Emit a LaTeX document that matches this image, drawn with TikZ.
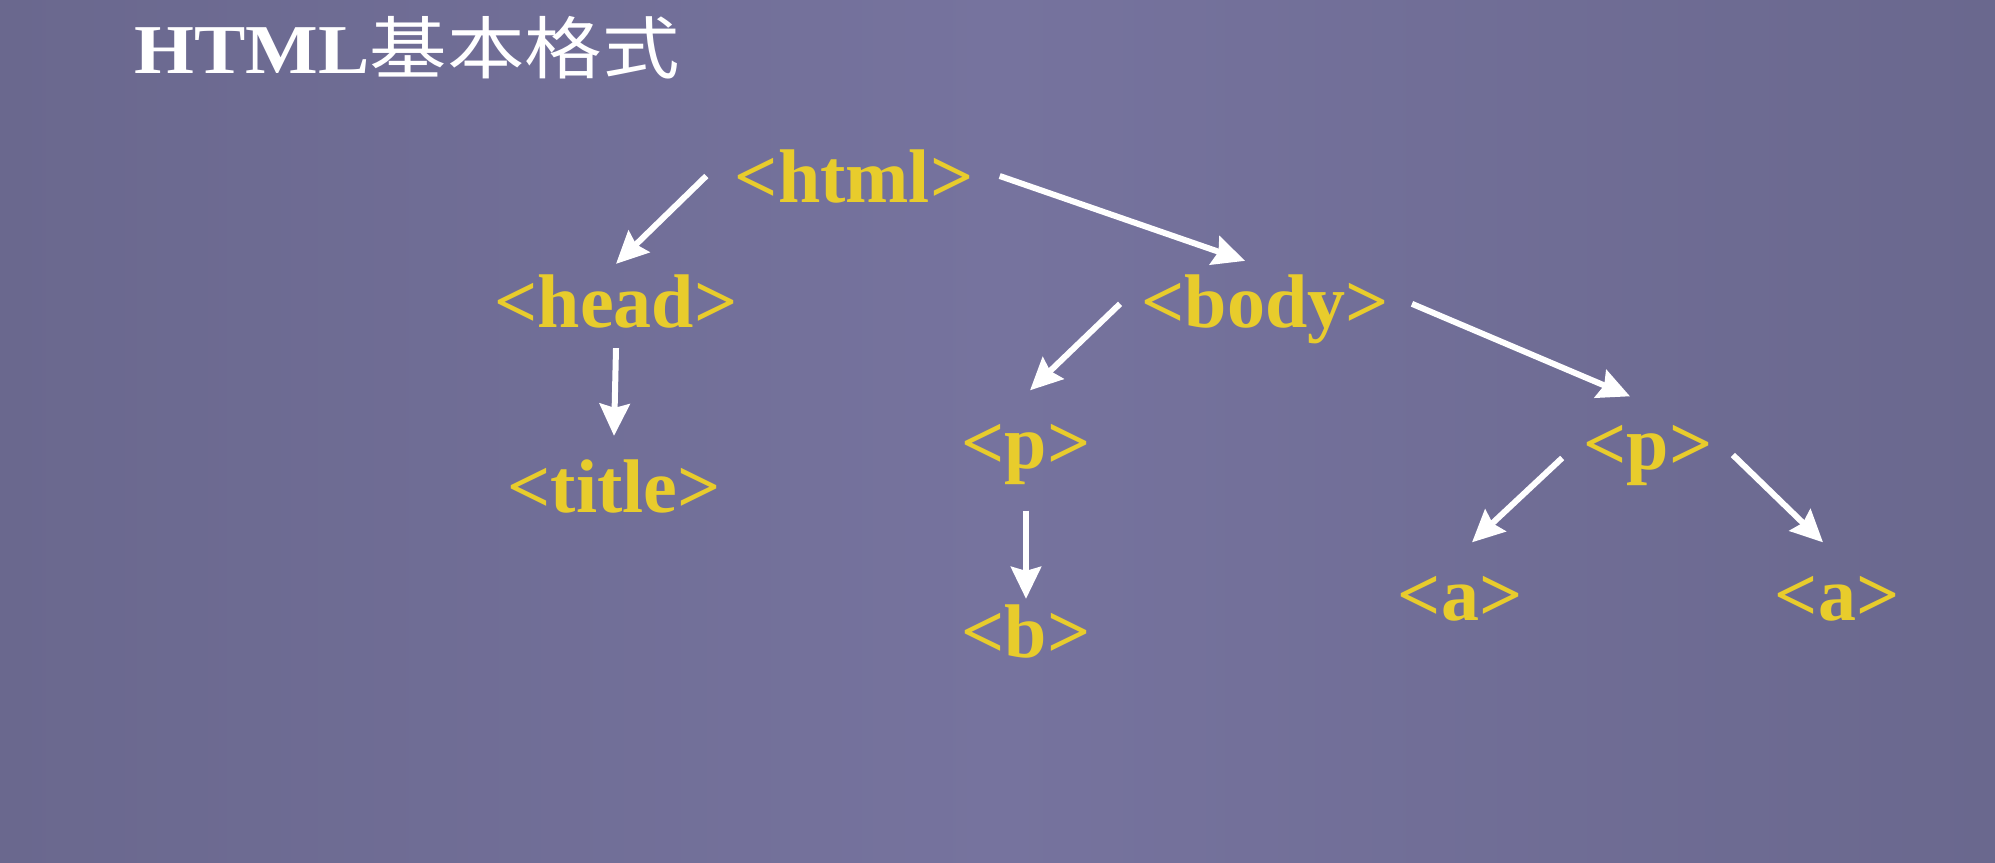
\documentclass[tikz,border=0pt]{standalone}
\usepackage{fontspec}
\setmainfont{Liberation Serif}
\newfontfamily\headfont{Liberation Serif}[FakeStretch=1.1]
\newfontfamily\cjk{Noto Sans CJK SC}[FakeStretch=1.14]
\usetikzlibrary{arrows.meta,positioning}
\definecolor{slidebg}{HTML}{76739E}
\definecolor{slidebgdark}{HTML}{6A688E}
\definecolor{tagyellow}{HTML}{E8CC2C}
\newcommand{\tagfont}{\fontsize{38}{38}\selectfont\bfseries}

\tikzset{
  tag/.style={text=tagyellow,font=\tagfont,inner sep=0pt,anchor=base},
  link/.style={draw=white,line width=3pt,-{Stealth[length=16pt,width=15pt,inset=2pt]}}
}

\begin{document}
\begin{tikzpicture}[x=0.5pt,y=-0.5pt]
    % background of the slide
    \shade[left color=slidebgdark,right color=slidebgdark,middle color=slidebg] (0,0) rectangle (1995,862);
    \useasboundingbox (0,0) rectangle (1995,862);

    \node[anchor=base west,inner sep=0pt,text=white,font=\headfont\fontsize{35}{35}\selectfont\bfseries] (heading) at (134,73) {HTML{\cjk\mdseries\fontsize{34}{34}\selectfont 基本格式}};

    % the tree of tags
    \node[tag] (html)  at (854,202)  {<html>};
    \node[tag] (head)  at (616,327)  {<head>};
    \node[tag] (body)  at (1265,327) {<body>};
    \node[tag] (title) at (614,512)  {<title>};
    \node[tag] (pL)    at (1026,468) {<p>};
    \node[tag] (pR)    at (1648,469) {<p>};
    \node[tag] (b)     at (1026,657) {<b>};
    \node[tag] (aL)    at (1460,620) {<a>};
    \node[tag] (aR)    at (1837,620) {<a>};

    \draw[link] ([xshift=-14pt]html.west) -- ([yshift=5pt]head.north);
    \draw[link] ([xshift=13pt]html.east) -- ([xshift=-10pt,yshift=6.5pt]body.north);
    \draw[link] ([yshift=-10pt]head.south) -- ([yshift=11.5pt]title.north);
    \draw[link] ([xshift=-10.5pt,yshift=2.5pt]body.west) -- ([xshift=2pt,yshift=16.5pt]pL.north);
    \draw[link] ([xshift=11.5pt,yshift=2.5pt]body.east) -- ([xshift=-9pt,yshift=14pt]pR.north);
    \draw[link] ([yshift=-13pt]pL.south) -- ([yshift=2.5pt]b.north);
    \draw[link] ([xshift=-10.5pt,yshift=-1.5pt]pR.west) -- ([xshift=6pt,yshift=16.5pt]aL.north);
    \draw[link] ([xshift=10pt]pR.east) -- ([xshift=-7pt,yshift=16.5pt]aR.north);
\end{tikzpicture}
\end{document}
